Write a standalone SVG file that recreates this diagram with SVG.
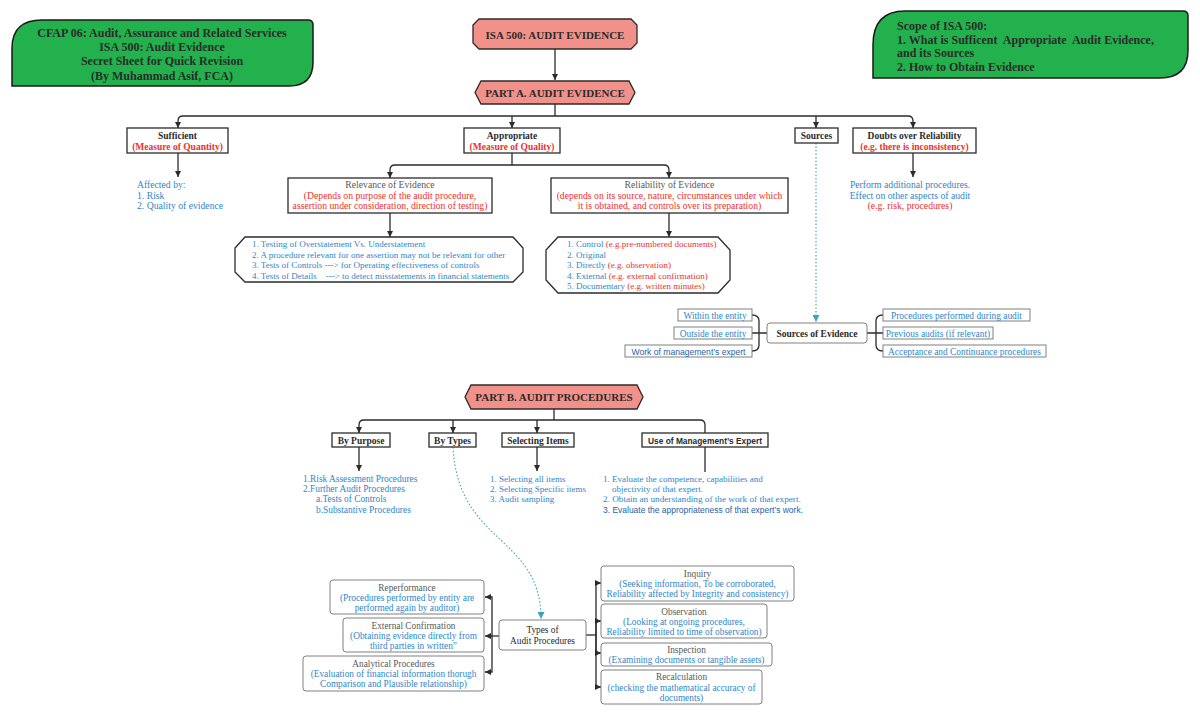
<svg xmlns="http://www.w3.org/2000/svg" width="1200" height="716" viewBox="0 0 1200 716">
<style>
text{font-family:"Liberation Serif","DejaVu Serif",serif;font-size:9.7px}
.c{text-anchor:middle}
.b{font-weight:bold}
.h{font-size:9.5px}
.t12{font-size:12px}
.t11{font-size:11px}
.lst{font-size:9px}
.s9{font-size:9px}
.s92{font-size:9.2px}
.s93{font-size:9.3px}
.s94{font-size:9.4px}
.blue{fill:#2f86c9}
.red{fill:#f0302c}
.gray{fill:#595959}
.dk{fill:#2b2b2b}
.sans{font-family:"Liberation Sans","DejaVu Sans",sans-serif;font-size:9.2px}
.box{fill:#fff;stroke:#2b2b2b;stroke-width:1.3}
.lbox{fill:#fff;stroke:#808080;stroke-width:1}
.pink{fill:#f2918a;stroke:#2b2b2b;stroke-width:1.3}
.green{fill:#22b14c;stroke:#1a1a1a;stroke-width:1.5}
.ln{fill:none;stroke:#2b2b2b;stroke-width:1.3}
.arr{marker-end:url(#ah)}
.dot{fill:none;stroke:#3aa3c2;stroke-width:1.1;stroke-dasharray:1.5 2;marker-end:url(#ta)}
</style>
<defs>
<marker id="ah" markerUnits="userSpaceOnUse" markerWidth="6" markerHeight="6" refX="6" refY="3" orient="auto"><path d="M0,0 L6,3 L0,6 z" fill="#2b2b2b"/></marker>
<marker id="ta" markerUnits="userSpaceOnUse" markerWidth="7" markerHeight="7" refX="7" refY="3.5" orient="auto"><path d="M0,0 L7,3.5 L0,7 z" fill="#3aa3c2"/></marker>
</defs>
<rect width="1200" height="716" fill="#fff"/>

<g id="connectors">
<path class="ln arr" d="M555,49 V80"/>
<path class="ln" d="M555,104 V116"/>
<path class="ln arr" d="M555,116 H183 Q178,116 178,121 V128"/>
<path class="ln arr" d="M555,116 H908 Q913,116 913,121 V128"/>
<path class="ln arr" d="M512,116 V128"/>
<path class="ln arr" d="M816,116 V128"/>
<path class="ln arr" d="M178,153 V177"/>
<path class="ln" d="M512,153 V165"/>
<path class="ln arr" d="M512,165 H395 Q390,165 390,170 V178"/>
<path class="ln arr" d="M512,165 H664 Q669,165 669,170 V178"/>
<path class="ln arr" d="M913,153 V177"/>
<path class="ln arr" d="M390,213 V237"/>
<path class="ln arr" d="M669,213 V237"/>
<path class="dot" d="M816,143 V322"/>
<path class="ln" d="M767,333 H752 M752,315 Q759,315 759,321 V345 Q759,351 752,351"/>
<path class="ln" d="M867,333 H883 M883,315 Q876,315 876,321 V345 Q876,351 883,351"/>
<path class="ln" d="M554,409 V420"/>
<path class="ln arr" d="M554,420 H364 Q359,420 359,425 V433"/>
<path class="ln" d="M554,420 H700 Q705,420 705,425 V433"/>
<path class="ln arr" d="M453,420 V433"/>
<path class="ln arr" d="M537,420 V433"/>
<path class="ln arr" d="M359,447 V471"/>
<path class="ln arr" d="M537,447 V471"/>
<path class="ln" d="M705,447 V472"/>
<path class="dot" d="M453,447 C458,545 541,535 541,619"/>
<path class="ln arr" d="M499,636 H485"/>
<path class="ln arr" d="M492,636 V597 H485"/>
<path class="ln arr" d="M492,636 V672 H485"/>
<path class="ln" d="M586,635 H596"/>
<path class="ln arr" d="M596,635 V583 H601"/>
<path class="ln arr" d="M596,635 V621 H601"/>
<path class="ln arr" d="M596,635 V653 H601"/>
<path class="ln arr" d="M596,635 V687 H601"/>
</g>

<g id="title-left">
<path class="green" d="M12,48 Q12,20 42,20 H308 Q313,20 313,25 V62 Q313,86 289,86 H12 Z"/>
<text class="c b dk t12" x="162" y="36.5">CFAP 06: Audit, Assurance and Related Services</text>
<text class="c b dk t12" x="162" y="51">ISA 500: Audit Evidence</text>
<text class="c b dk t12" x="162" y="65">Secret Sheet for Quick Revision</text>
<text class="c b dk t12" x="162" y="79.5">(By Muhammad Asif, FCA)</text>
</g>

<g id="scope-right">
<path class="green" d="M873,45 Q873,11 905,11 H1183 Q1188,11 1188,16 V50 Q1188,78 1160,78 H873 Z"/>
<text class="b dk t12" x="897" y="30">Scope of ISA 500:</text>
<text class="b dk t12" x="897" y="43.5" xml:space="preserve">1. What is Sufficent  Appropriate  Audit Evidence,</text>
<text class="b dk t12" x="897" y="57">and its Sources</text>
<text class="b dk t12" x="897" y="71">2. How to Obtain Evidence</text>
</g>

<g id="isa500">
<polygon class="pink" points="479,19 631,19 637,25 637,43 631,49 479,49 473,43 473,25"/>
<text class="c b dk t11" x="555" y="39">ISA 500: AUDIT EVIDENCE</text>
</g>

<g id="part-a">
<polygon class="pink" points="481,81 629,81 635,92.5 629,104 481,104 475,92.5"/>
<text class="c b dk t11" x="555" y="96.5">PART A. AUDIT EVIDENCE</text>
</g>

<g id="sufficient">
<rect class="box" x="127" y="128" width="101" height="25"/>
<text class="c b dk h" x="177.5" y="139">Sufficient</text>
<text class="c b red h" x="177.5" y="150">(Measure of Quantity)</text>
</g>
<g id="affected">
<text class="blue" x="137" y="188">Affected by:</text>
<text class="blue" x="137" y="199">1. Risk</text>
<text class="blue" x="137" y="209">2. Quality of evidence</text>
</g>

<g id="appropriate">
<rect class="box" x="464" y="128" width="96" height="25"/>
<text class="c b dk h" x="512" y="139">Appropriate</text>
<text class="c b red h" x="512" y="150">(Measure of Quality)</text>
</g>

<g id="sources">
<rect class="box" x="795" y="128" width="43" height="15"/>
<text class="c b dk h" x="816.5" y="139">Sources</text>
</g>

<g id="doubts">
<rect class="box" x="853" y="128" width="123" height="25"/>
<text class="c b dk h" x="914.5" y="139">Doubts over Reliability</text>
<text class="c b red h" x="914.5" y="150">(e.g. there is inconsistency)</text>
</g>
<g id="doubts-result">
<text class="c blue" x="910" y="188">Perform additional procedures.</text>
<text class="c blue" x="910" y="199">Effect on other aspects of audit</text>
<text class="c red" x="910" y="209">(e.g. risk, procedures)</text>
</g>

<g id="relevance">
<rect class="box" x="288" y="178" width="204" height="35"/>
<text class="c gray" x="390" y="188">Relevance of Evidence</text>
<text class="c red" x="390" y="199">(Depends on purpose of the audit procedure,</text>
<text class="c red" x="390" y="209">assertion under consideration, direction of testing)</text>
</g>

<g id="reliability">
<rect class="box" x="551" y="178" width="237" height="35"/>
<text class="c gray" x="669.5" y="188">Reliability of Evidence</text>
<text class="c red" x="669.5" y="199">(depends on its source, nature, circumstances under which</text>
<text class="c red" x="669.5" y="209">it is obtained, and controls over its preparation)</text>
</g>

<g id="relevance-list">
<polygon class="box" points="245,237 513,237 523,248 523,272 513,282 245,282 235,272 235,248"/>
<text class="blue lst" x="252" y="247">1. Testing of Overstatement Vs. Understatement</text>
<text class="blue lst" x="252" y="258">2. A procedure relevant for one assertion may not be relevant for other</text>
<text class="blue lst" x="252" y="268">3. Tests of Controls ---&gt; for Operating effectiveness of controls</text>
<text class="blue lst" x="252" y="279" xml:space="preserve">4. Tests of Details    ---&gt; to detect misstatements in financial statements</text>
</g>

<g id="reliability-list">
<polygon class="box" points="558,237 718,237 730,250 730,280 718,293 558,293 546,280 546,250"/>
<text class="blue lst" x="567" y="247">1. Control <tspan class="red">(e.g.pre-numbered documents)</tspan></text>
<text class="blue lst" x="567" y="258">2. Original</text>
<text class="blue lst" x="567" y="268">3. Directly <tspan class="red">(e.g. observation)</tspan></text>
<text class="blue lst" x="567" y="279">4. External <tspan class="red">(e.g. external confirmation)</tspan></text>
<text class="blue lst" x="567" y="289">5. Documentary <tspan class="red">(e.g. written minutes)</tspan></text>
</g>

<g id="sources-of-evidence">
<rect class="lbox" x="767" y="323" width="100" height="20" rx="3" stroke="#555"/>
<text class="c b dk h" x="817" y="336.5">Sources of Evidence</text>
</g>
<g id="src-within">
<rect class="lbox" x="678" y="309" width="74" height="12"/>
<text class="c blue s94" x="715" y="318.5">Within the entity</text>
</g>
<g id="src-outside">
<rect class="lbox" x="674" y="327" width="78" height="12"/>
<text class="c blue s94" x="713" y="336.5">Outside the entity</text>
</g>
<g id="src-expert">
<rect class="lbox" x="625" y="345" width="127" height="12"/>
<text class="c sans" x="688.5" y="354.5" fill="#1f5fa8" textLength="114" lengthAdjust="spacingAndGlyphs">Work of management’s expert</text>
</g>
<g id="src-during">
<rect class="lbox" x="883" y="309" width="147" height="12"/>
<text class="c blue s94" x="956.5" y="318.5">Procedures performed during audit</text>
</g>
<g id="src-previous">
<rect class="lbox" x="883" y="327" width="110" height="12"/>
<text class="c blue s94" x="938" y="336.5">Previous audits (if relevant)</text>
</g>
<g id="src-acceptance">
<rect class="lbox" x="883" y="345" width="163" height="12"/>
<text class="c blue s94" x="964.5" y="354.5">Acceptance and Continuance procedures</text>
</g>

<g id="part-b">
<polygon class="pink" points="471,385 637,385 643,397 637,409 471,409 465,397"/>
<text class="c b dk t11" x="554" y="401">PART B. AUDIT PROCEDURES</text>
</g>

<g id="by-purpose">
<rect class="box" x="332" y="433" width="58" height="14"/>
<text class="c b dk h" x="361" y="443.5">By Purpose</text>
</g>
<g id="purpose-list">
<text class="blue s94" x="303" y="481.5">1.Risk Assessment Procedures</text>
<text class="blue s94" x="303" y="492">2.Further Audit Procedures</text>
<text class="blue s94" x="316" y="502">a.Tests of Controls</text>
<text class="blue s94" x="316" y="512.5">b.Substantive Procedures</text>
</g>

<g id="by-types">
<rect class="box" x="429" y="433" width="47" height="14"/>
<text class="c b dk h" x="452.5" y="443.5">By Types</text>
</g>

<g id="selecting-items">
<rect class="box" x="502" y="433" width="72" height="14"/>
<text class="c b dk h" x="538" y="443.5">Selecting Items</text>
</g>
<g id="selecting-list">
<text class="blue s9" x="490" y="481.5">1. Selecting all items</text>
<text class="blue s9" x="490" y="492">2. Selecting Specific items</text>
<text class="blue s9" x="490" y="502">3. Audit sampling</text>
</g>

<g id="use-expert">
<rect class="box" x="642" y="433" width="126" height="14"/>
<text class="c b sans dk" x="705" y="443.5" style="font-size:9.8px" textLength="114" lengthAdjust="spacingAndGlyphs">Use of Management’s Expert</text>
</g>
<g id="expert-list">
<text class="blue s9" x="603" y="481.5">1. Evaluate the competence, capabilities and</text>
<text class="blue s9" x="612" y="492">objectivity of that expert.</text>
<text class="blue s92" x="603" y="502">2. Obtain an understanding of the work of that expert.</text>
<text class="sans" x="603" y="513" style="font-size:9.6px" fill="#1f5fa8" textLength="200" lengthAdjust="spacingAndGlyphs">3. Evaluate the appropriateness of that expert’s work.</text>
</g>

<g id="types-of-audit-procedures">
<rect class="lbox" x="499" y="620" width="87" height="30" rx="3"/>
<text class="c dk s93" x="542.5" y="633">Types of</text>
<text class="c dk s93" x="542.5" y="644">Audit Procedures</text>
</g>

<g id="reperformance">
<rect class="lbox" x="330" y="580" width="154" height="34" rx="3"/>
<text class="c gray s93" x="407" y="590.5">Reperformance</text>
<text class="c blue s93" x="407" y="601">(Procedures performed by entity are</text>
<text class="c blue s93" x="407" y="611">performed again by auditor)</text>
</g>
<g id="external-confirmation">
<rect class="lbox" x="343" y="618" width="141" height="34" rx="3"/>
<text class="c gray s93" x="413.5" y="628.5">External Confirmation</text>
<text class="c blue s93" x="413.5" y="639">(Obtaining evidence directly from</text>
<text class="c blue s93" x="413.5" y="649">third parties in written”</text>
</g>
<g id="analytical-procedures">
<rect class="lbox" x="303" y="656" width="181" height="35" rx="3"/>
<text class="c gray s93" x="393.5" y="666.5">Analytical Procedures</text>
<text class="c blue s93" x="393.5" y="676.5">(Evaluation of financial information thorugh</text>
<text class="c blue s93" x="393.5" y="687">Comparison and Plausible relationship)</text>
</g>

<g id="inquiry">
<rect class="lbox" x="601" y="566" width="193" height="35" rx="3"/>
<text class="c gray s93" x="697.5" y="577">Inquiry</text>
<text class="c blue s93" x="697.5" y="587">(Seeking information, To be corroborated,</text>
<text class="c blue s93" x="697.5" y="597">Reliability affected by Integrity and consistency)</text>
</g>
<g id="observation">
<rect class="lbox" x="601" y="604" width="166" height="34" rx="3"/>
<text class="c gray s93" x="684" y="615">Observation</text>
<text class="c blue s93" x="684" y="625">(Looking at ongoing procedures,</text>
<text class="c blue s93" x="684" y="635">Reliability limited to time of observation)</text>
</g>
<g id="inspection">
<rect class="lbox" x="601" y="643" width="171" height="23" rx="3"/>
<text class="c gray s93" x="686.5" y="652.5">Inspection</text>
<text class="c blue s93" x="686.5" y="662.5">(Examining documents or tangible assets)</text>
</g>
<g id="recalculation">
<rect class="lbox" x="601" y="670" width="161" height="34" rx="3"/>
<text class="c gray s93" x="681.5" y="680">Recalculation</text>
<text class="c blue s93" x="681.5" y="690.5">(checking the mathematical accuracy of</text>
<text class="c blue s93" x="681.5" y="700.5">documents)</text>
</g>
</svg>
